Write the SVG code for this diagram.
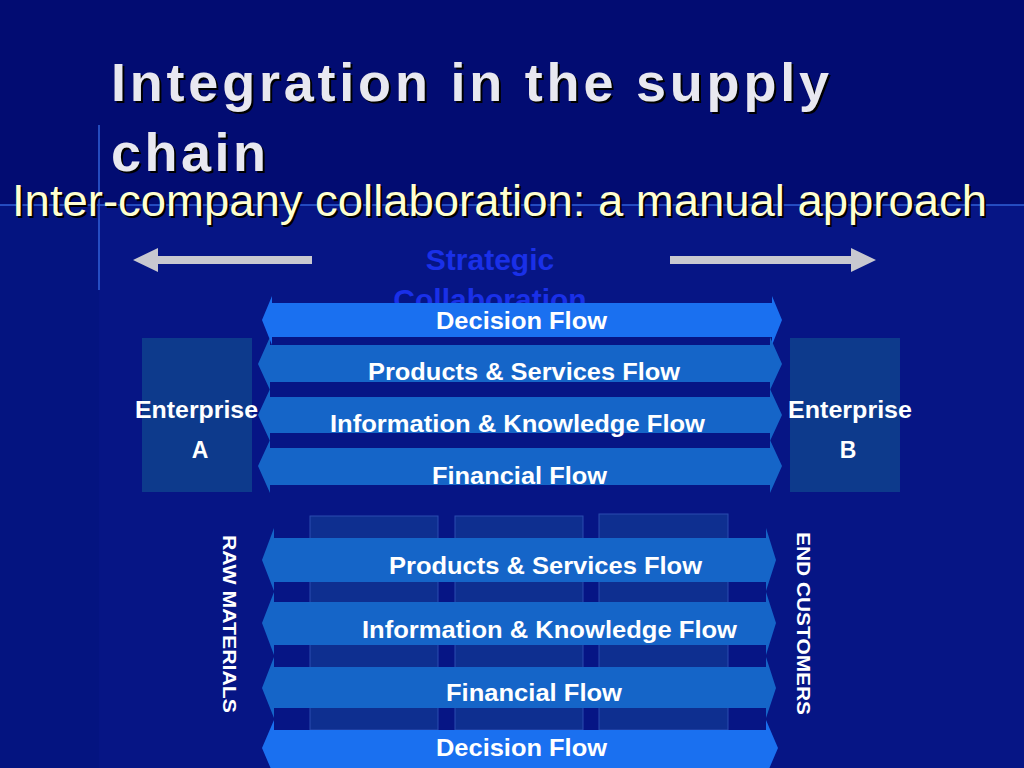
<svg xmlns="http://www.w3.org/2000/svg" width="1024" height="768" viewBox="0 0 1024 768">
<defs>
<style>
.t{font-family:"Liberation Sans",Arial,sans-serif;font-weight:bold;fill:#fff;text-anchor:middle}
.l{font-family:"Liberation Sans",Arial,sans-serif;font-weight:bold;fill:#fff;font-size:23px}
.bar{fill:#1565c8}
.dec{fill:#1a70f0}
.ent{fill:#0d3a8c}
.col{fill:#0e2f90;stroke:#2a4cb0;stroke-width:1}
</style>
</defs>
<rect width="1024" height="768" fill="#061585"/>
<rect x="0" y="0" width="1024" height="205" fill="#020c72"/>
<rect x="0" y="205" width="99" height="563" fill="#041480"/>
<line x1="0" y1="205" x2="1024" y2="205" stroke="#3060d8" stroke-width="1.5"/>
<line x1="99" y1="125" x2="99" y2="290" stroke="#3060d8" stroke-width="1.5"/>
<text x="113" y="103" font-family="Liberation Sans,Arial,sans-serif" font-weight="bold" font-size="54" fill="#000" textLength="718">Integration in the supply</text>
<text x="111" y="101" font-family="Liberation Sans,Arial,sans-serif" font-weight="bold" font-size="54" fill="#e8e8f0" textLength="718">Integration in the supply</text>
<text x="113" y="173" font-family="Liberation Sans,Arial,sans-serif" font-weight="bold" font-size="54" fill="#000" textLength="155">chain</text>
<text x="111" y="171" font-family="Liberation Sans,Arial,sans-serif" font-weight="bold" font-size="54" fill="#e8e8f0" textLength="155">chain</text>
<text x="14" y="218" font-family="Liberation Sans,Arial,sans-serif" font-size="44" fill="#000" textLength="975" lengthAdjust="spacingAndGlyphs">Inter-company collaboration: a manual approach</text>
<text x="12" y="216" font-family="Liberation Sans,Arial,sans-serif" font-size="44" fill="#ffffd0" textLength="975" lengthAdjust="spacingAndGlyphs">Inter-company collaboration: a manual approach</text>
<g id="gray-arrows" fill="#c8c8d0">
<polygon points="133,260 158,248 158,256 312,256 312,264 158,264 158,272"/>
<polygon points="876,260 851,248 851,256 670,256 670,264 851,264 851,272"/>
</g>
<text class="t" x="490" y="270" font-size="30" style="fill:#1a30e8">Strategic</text>
<text class="t" x="490" y="310" font-size="30" style="fill:#1a30e8">Collaboration</text>
<g id="enterprise-a"><rect class="ent" x="142" y="338" width="110" height="154"/><text class="l" x="135" y="418" textLength="123" lengthAdjust="spacingAndGlyphs">Enterprise</text><text class="t" x="200" y="458" font-size="23">A</text></g>
<g id="enterprise-b"><rect class="ent" x="790" y="338" width="110" height="154"/><text class="l" x="788" y="418" textLength="124" lengthAdjust="spacingAndGlyphs">Enterprise</text><text class="t" x="848" y="458" font-size="23">B</text></g>
<g id="columns">
<rect class="col" x="310" y="516" width="128" height="214"/>
<rect class="col" x="455" y="516" width="128" height="214"/>
<rect class="col" x="599" y="514" width="129" height="216"/>
</g>
<g id="connectors">
<polygon class="dec" points="262,320 272,296 272,303 772,303 772,296 782,320 772,345 772,337 272,337 272,345"/>
<polygon class="bar" points="258,364 270,337 270,345 770,345 770,337 782,364 770,390 770,382 270,382 270,390"/>
<polygon class="bar" points="258,415 270,389 270,397 770,397 770,389 782,415 770,441 770,433 270,433 270,441"/>
<polygon class="bar" points="258,466 270,440 270,448 770,448 770,440 782,466 770,493 770,485 270,485 270,493"/>
<polygon class="bar" points="262,560 274,528 274,538 766,538 766,528 776,560 766,591 766,582 274,582 274,591"/>
<polygon class="bar" points="262,623 274,592 274,602 766,602 766,592 776,623 766,655 766,645 274,645 274,655"/>
<polygon class="bar" points="262,688 274,657 274,667 766,667 766,657 776,688 766,718 766,708 274,708 274,718"/>
<polygon class="dec" points="262,748 274,720 274,730 766,730 766,720 778,748 766,776 274,776"/>
</g>
<g id="labels">
<text class="l" x="436" y="329" textLength="171" lengthAdjust="spacingAndGlyphs">Decision Flow</text>
<text class="l" x="368" y="380" textLength="312" lengthAdjust="spacingAndGlyphs">Products &amp; Services Flow</text>
<text class="l" x="330" y="432" textLength="375" lengthAdjust="spacingAndGlyphs">Information &amp; Knowledge Flow</text>
<text class="l" x="432" y="484" textLength="175" lengthAdjust="spacingAndGlyphs">Financial Flow</text>
<text class="l" x="389" y="574" textLength="313" lengthAdjust="spacingAndGlyphs">Products &amp; Services Flow</text>
<text class="l" x="362" y="638" textLength="375" lengthAdjust="spacingAndGlyphs">Information &amp; Knowledge Flow</text>
<text class="l" x="446" y="701" textLength="176" lengthAdjust="spacingAndGlyphs">Financial Flow</text>
<text class="l" x="436" y="756" textLength="171" lengthAdjust="spacingAndGlyphs">Decision Flow</text>
<text class="l" style="font-size:18px" textLength="178" lengthAdjust="spacingAndGlyphs" transform="translate(223,535) rotate(90)">RAW MATERIALS</text>
<text class="l" style="font-size:18px" textLength="183" lengthAdjust="spacingAndGlyphs" transform="translate(797,532) rotate(90)">END CUSTOMERS</text>
</g>
</svg>
